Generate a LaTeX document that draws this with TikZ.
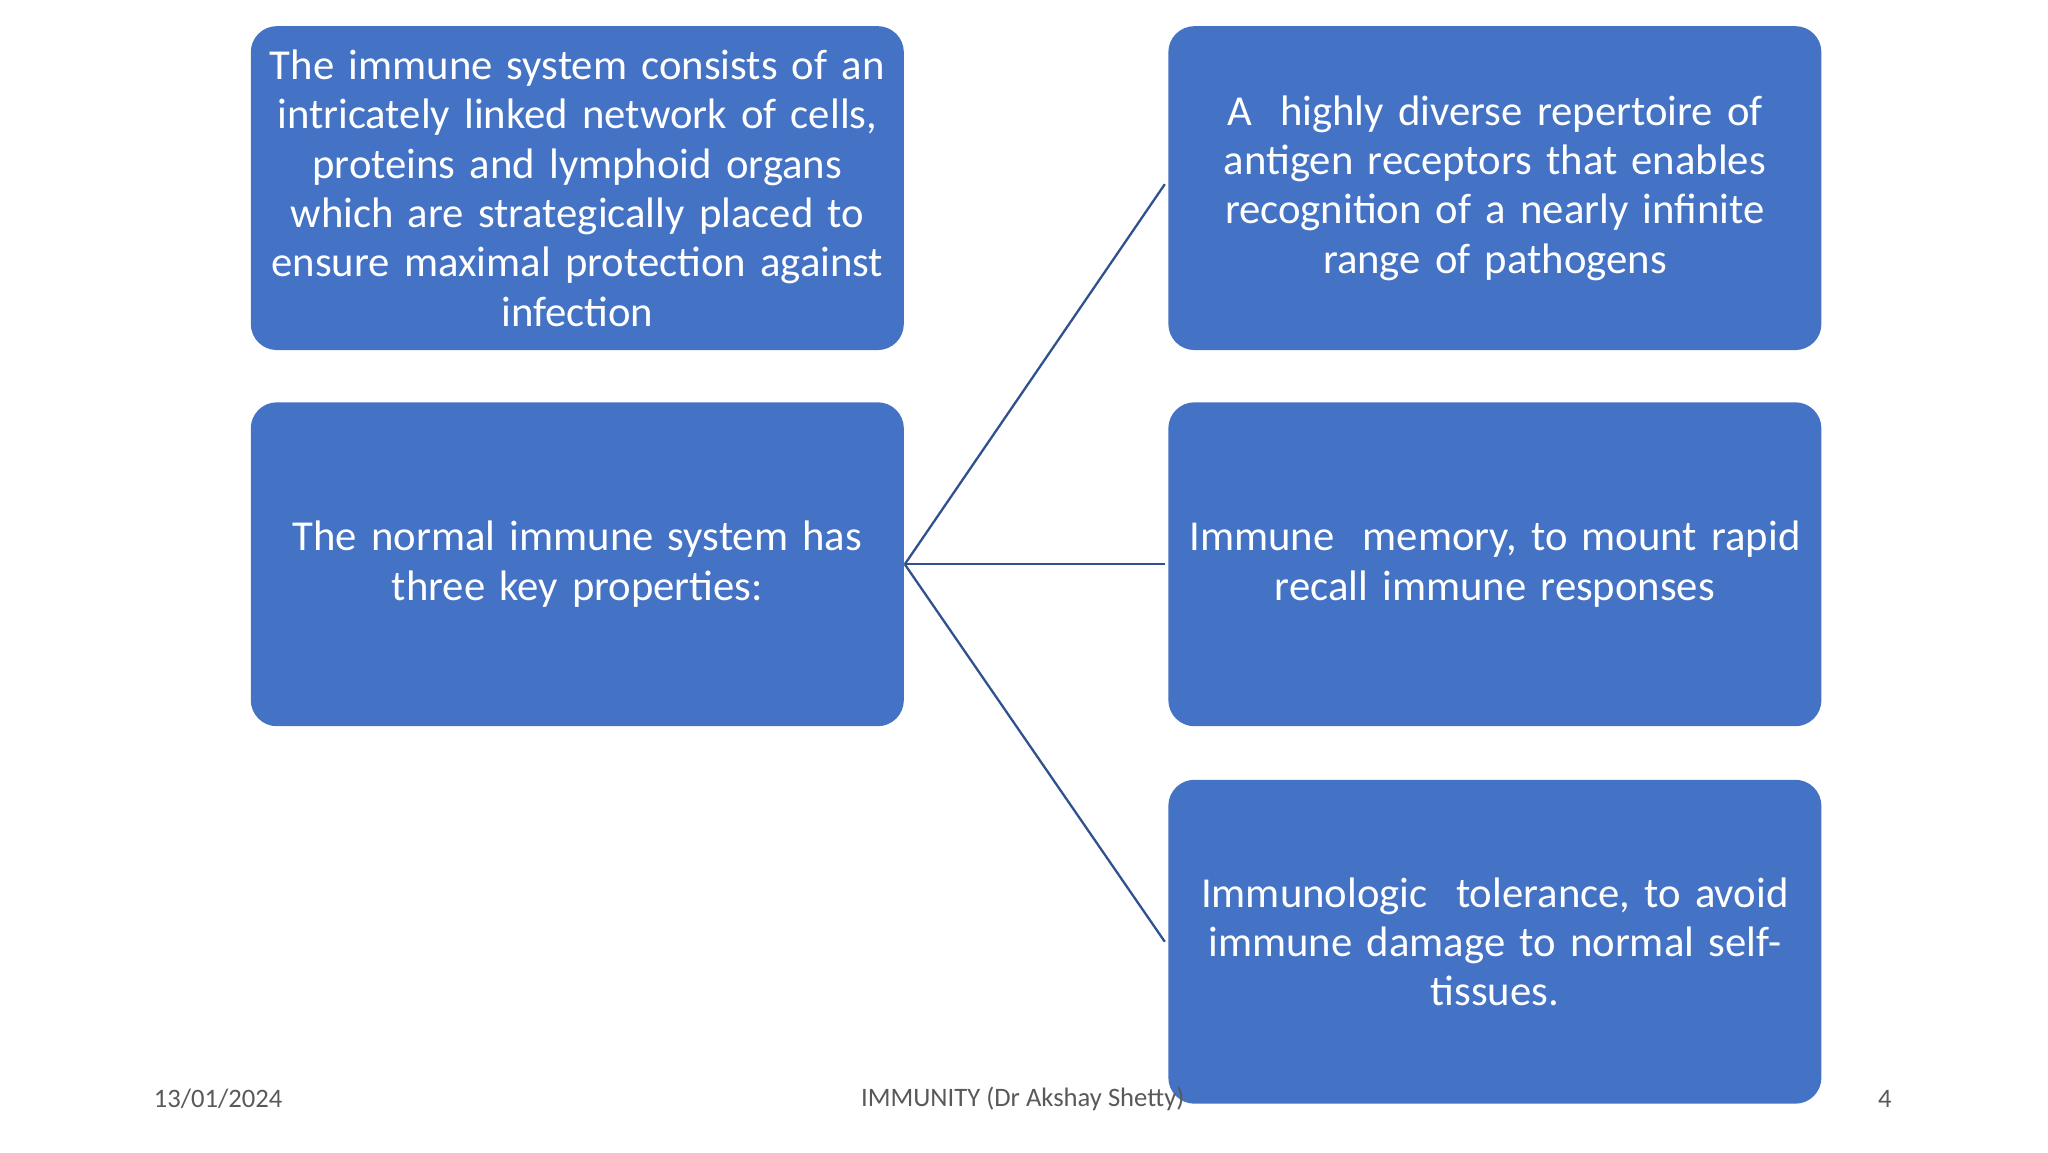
\documentclass[tikz,border=0pt]{standalone}
\usepackage{fontspec}
\setmainfont{Carlito}
\definecolor{boxblue}{HTML}{4472C4}
\definecolor{linkblue}{HTML}{2F528F}
\definecolor{footgray}{HTML}{595959}
\begin{document}
\begin{tikzpicture}[
        box/.style={rectangle,rounded corners=0.2cm,fill=boxblue,text=white,
            minimum width=5cm,minimum height=2.48cm,text width=4.9cm,align=center,
            inner sep=0pt,font=\fontsize{9.3pt}{10.75pt}\selectfont},
        link/.style={linkblue,line width=0.5pt},
        foot/.style={text=footgray,font=\fontsize{5.8pt}{7pt}\selectfont}
        ]
        \useasboundingbox (0,0) rectangle (15.68,-8.82);
        \node[box] (info) at (4.42,-1.44){The immune system consists of an\\ intricately linked network of cells,\\ proteins and lymphoid organs\\ which are strategically placed to\\ ensure maximal protection against\\ infection};
        \node[box] (main) at (4.42,-4.32){The normal immune system has\\ three key properties:};
        \node[box] (prop1) at (11.445,-1.44){A\ \ highly diverse repertoire of\\ antigen receptors that enables\\ recognition of a nearly infinite\\ range of pathogens\\[2pt]};
        \node[box] (prop2) at (11.445,-4.32){Immune\ \ memory, to mount rapid\\ recall immune responses};
        \node[box] (prop3) at (11.445,-7.21){Immunologic\ \ tolerance, to avoid\\ immune damage to normal self-\\ tissues.};

        \draw[link] (main.east) -- ([xshift=-0.02cm,yshift=0.03cm]prop1.west);
        \draw[link] (main.east) -- ([xshift=-0.02cm]prop2.west);
        \draw[link] (main.east) -- ([xshift=-0.02cm]prop3.west);

        \node[foot] (date) at (1.67,-8.41){13/01/2024};
        \node[foot] (title) at (7.83,-8.41){IMMUNITY (Dr Akshay Shetty)};
        \node[foot] (page) at (14.43,-8.41){4};
    \end{tikzpicture}
\end{document}
